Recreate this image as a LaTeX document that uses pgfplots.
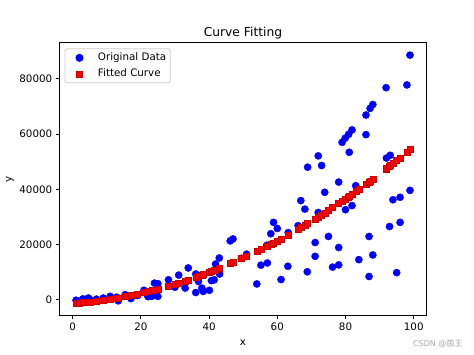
\documentclass[border=0pt]{standalone}
\usepackage{fontspec}
\setmainfont{DejaVu Sans}
\newfontfamily\cjk{Noto Sans CJK SC}
\usepackage{pgfplots}
\pgfplotsset{compat=1.18}
\usepackage{pgfplotstable}

\pgfplotstableread{
x y
1.0 -200
1.8 -600
3.0 300
4.6 600
5.1 0
7.0 200
9.0 600
11.0 1200
12.9 900
13.4 -400
15.4 1800
17.1 400
19.0 1500
20.9 3400
22.1 1100
23.2 1200
24.0 6000
25.0 5800
25.0 1200
28.1 7200
30.0 4500
31.1 8900
33.0 4200
33.9 11500
36.1 9300
36.1 2600
36.9 6600
37.9 4200
38.3 3000
40.1 3400
40.7 6900
41.5 7200
41.9 12900
43.0 15100
43.1 9300
46.2 21300
47.0 22000
49.5 15000
51.0 16500
54.0 5700
55.2 12500
56.9 19700
57.1 13300
58.1 23900
58.9 28000
60.0 25800
61.1 7300
63.1 12100
63.2 24300
66.1 26800
66.9 35900
68.1 32800
68.8 10100
68.9 48000
71.1 20700
71.1 15700
72.0 52100
72.0 31600
73.0 48600
73.9 38900
75.0 22900
76.2 11800
78.0 42600
78.0 18900
78.0 12600
79.0 57000
79.9 58500
80.0 32600
80.9 59900
81.1 53400
81.9 61500
81.9 34100
83.0 41300
83.9 14500
86.0 66900
86.0 59800
86.9 22900
86.9 8400
87.2 69300
88.0 70700
88.0 16200
91.9 76800
92.0 51300
92.9 26500
93.1 52300
93.9 36200
95.0 9800
96.0 37100
96.0 28000
98.0 77800
98.9 88600
98.9 39600
}\origdata

\pgfplotstableread{
x y
1.0 -1307
1.8 -1222
3.0 -1084
4.6 -878
5.1 -808
7.0 -523
9.0 -185
11.0 191
12.9 583
13.4 692
15.4 1152
17.1 1572
19.0 2075
20.9 2612
22.1 2969
23.2 3309
24.0 3563
25.0 3889
28.1 4961
30.0 5663
31.1 6086
33.0 6842
33.9 7212
36.1 8150
36.9 8503
37.9 8952
38.3 9134
40.1 9974
40.7 10261
41.5 10648
41.9 10844
43.0 11392
43.1 11442
46.2 13049
47.0 13478
49.5 14860
51.0 15718
54.0 17497
55.2 18233
56.9 19299
57.1 19427
58.1 20068
58.9 20589
60.0 21314
61.1 22052
63.1 23421
63.2 23490
66.1 25546
66.9 26129
68.1 27012
68.8 27534
68.9 27609
71.1 29281
72.0 29979
73.0 30763
73.9 31477
75.0 32360
76.2 33336
78.0 34826
79.0 35667
79.9 36433
80.0 36518
80.9 37292
81.1 37465
81.9 38161
83.0 39128
83.9 39928
86.0 41823
86.9 42648
87.2 42925
88.0 43667
91.9 47375
92.0 47471
92.9 48347
93.1 48544
93.9 49332
95.0 50424
96.0 51427
98.0 53463
98.9 54391
}\fitdata

\begin{document}
\begin{tikzpicture}
\begin{axis}[
  scale only axis,
  width=367.4pt, height=273pt,
  xmin=-3.9, xmax=103.8, ymin=-5800, ymax=93100,
  xtick={0,20,40,60,80,100},
  xticklabels={0,20,40,60,80,100},
  ytick={0,20000,40000,60000,80000},
  yticklabels={0,20000,40000,60000,80000},
  scaled ticks=false,
  tick align=outside, tick pos=left,
  major tick length=3.6pt,
  every tick/.style={black, line width=0.82pt},
  axis line style={line width=0.82pt},
  xticklabel style={font=\fontsize{10.3}{12.4}\selectfont},
  yticklabel style={font=\fontsize{10.3}{12.4}\selectfont},
  title={Curve Fitting},
  title style={at={(0.5,1)}, anchor=base, yshift=0pt, font=\fontsize{12.3}{14.8}\selectfont},
  xlabel={x},
  xlabel style={at={(axis description cs:0.5,0)}, anchor=base, yshift=-29.8pt, font=\fontsize{10.3}{12.4}\selectfont},
  ylabel={y},
  ylabel style={at={(axis description cs:-0.130,0.5)}, anchor=base, font=\fontsize{10.3}{12.4}\selectfont},
  legend image code/.code={\path[draw=none,fill=none] (0pt,-2pt) rectangle (20.6pt,2pt); \draw[#1] plot coordinates {(10.3pt,0pt)};},
  legend style={at={(0.0147,0.979)}, anchor=north west, draw=black!20, rounded corners=2pt,
    line width=0.8pt, fill=white, inner xsep=4.1pt, inner ysep=4.05pt,
    column sep=8.2pt, row sep=6.1pt,
    nodes={inner sep=0pt, text height=7.6pt, text depth=2.3pt},
    font=\fontsize{10.3}{12.4}\selectfont, cells={anchor=west}},
]
\addplot[only marks, mark=*, mark size=3.6pt, mark options={fill=blue, draw=blue}]
  table {\origdata};
\addlegendentry{Original Data}
\addplot[only marks, mark=square*, mark size=3pt, mark options={fill=red, draw=red!80!black, line width=0.4pt}]
  table {\fitdata};
\addlegendentry{Fitted Curve}
\end{axis}
\path ([shift={(-59.3pt,-39.3pt)}]current axis.south west) rectangle ++(474pt,355pt);
\node[anchor=base east, inner sep=0pt, text=black!35, font=\fontsize{8}{9}\selectfont]
  at ([shift={(36pt,-31.3pt)}]current axis.south east) {CSDN @{\cjk 茵王}};
\end{tikzpicture}
\end{document}
